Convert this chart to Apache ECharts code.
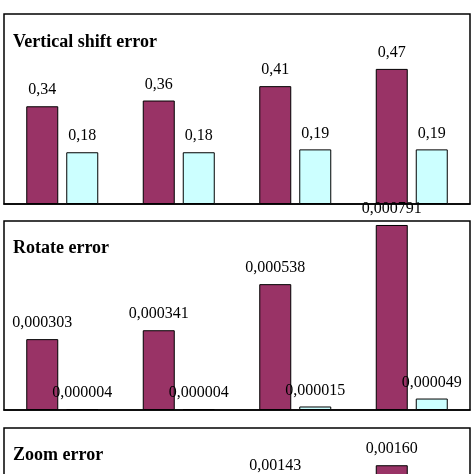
<!DOCTYPE html>
<html>
<head>
<meta charset="utf-8">
<script src="https://cdn.jsdelivr.net/npm/echarts@6/dist/echarts.min.js"></script>
</head>
<body style="margin:0;overflow:hidden">
<div id="main" style="width:474px;height:650px;"></div>
<script type="text/javascript">
var categories = ['A', 'B', 'C', 'D'];
var shiftA = [0.34, 0.36, 0.41, 0.47];
var shiftB = [0.18, 0.18, 0.19, 0.19];
var rotateA = [0.000303, 0.000341, 0.000538, 0.000791];
var rotateB = [0.000004, 0.000004, 0.000015, 0.000049];
var zoomA = [0.00110, 0.00120, 0.00143, 0.00160];
var zoomB = [0.00050, 0.00055, 0.00060, 0.00065];

var myChart = echarts.init(document.getElementById('main'));
var font = '"Liberation Serif", serif';

function lbl(dec) {
    return {
        show: true, position: 'top', distance: 8, color: '#000',
        fontFamily: font, fontSize: 16,
        formatter: function (p) { return p.value.toFixed(dec).replace('.', ','); }
    };
}
function bars(idx, a, b, dec) {
    var s = { type: 'bar', xAxisIndex: idx, yAxisIndex: idx, barWidth: 32, barGap: '25%', label: lbl(dec) };
    return [
        Object.assign({}, s, { data: a, itemStyle: { color: '#993366', borderColor: '#000', borderWidth: 1 } }),
        Object.assign({}, s, { data: b, itemStyle: { color: '#ccffff', borderColor: '#000', borderWidth: 1 } })
    ];
}
var grids = [
    { left: 4, width: 466, top: 0, height: 5 },
    { left: 4, width: 466, top: 14, height: 190 },
    { left: 4, width: 466, top: 221, height: 189 },
    { left: 4, width: 466, top: 428, height: 190 }
];
grids.forEach(function (g, i) { g.show = i > 0; g.borderColor = '#000'; g.borderWidth = 1.5; });
var maxes = [1, 0.661, 0.000808, 0.00199];

var option = {
    animation: false,
    title: [
        { text: 'Vertical shift error', left: 8, top: 28 },
        { text: 'Rotate error', left: 8, top: 234 },
        { text: 'Zoom error', left: 8, top: 441 }
    ].map(function (t) { t.textStyle = { fontFamily: font, fontSize: 18, fontWeight: 'bold', color: '#000' }; return t; }),
    grid: grids,
    xAxis: grids.map(function (g, i) {
        return {
            type: 'category', gridIndex: i, data: categories,
            position: i === 0 ? 'top' : 'bottom',
            axisLine: { show: i > 0, lineStyle: { color: '#000', width: 1.5 } },
            axisTick: { inside: i === 0, length: i === 0 ? 5 : 8, lineStyle: { color: '#000', width: 1.5 } },
            axisLabel: { show: false }
        };
    }),
    yAxis: grids.map(function (g, i) {
        return { type: 'value', gridIndex: i, min: 0, max: maxes[i], show: false, splitLine: { show: false } };
    }),
    series: [].concat(
        bars(1, shiftA, shiftB, 2),
        bars(2, rotateA, rotateB, 6),
        bars(3, zoomA, zoomB, 5)
    )
};
myChart.setOption(option);
</script>
</body>
</html>
